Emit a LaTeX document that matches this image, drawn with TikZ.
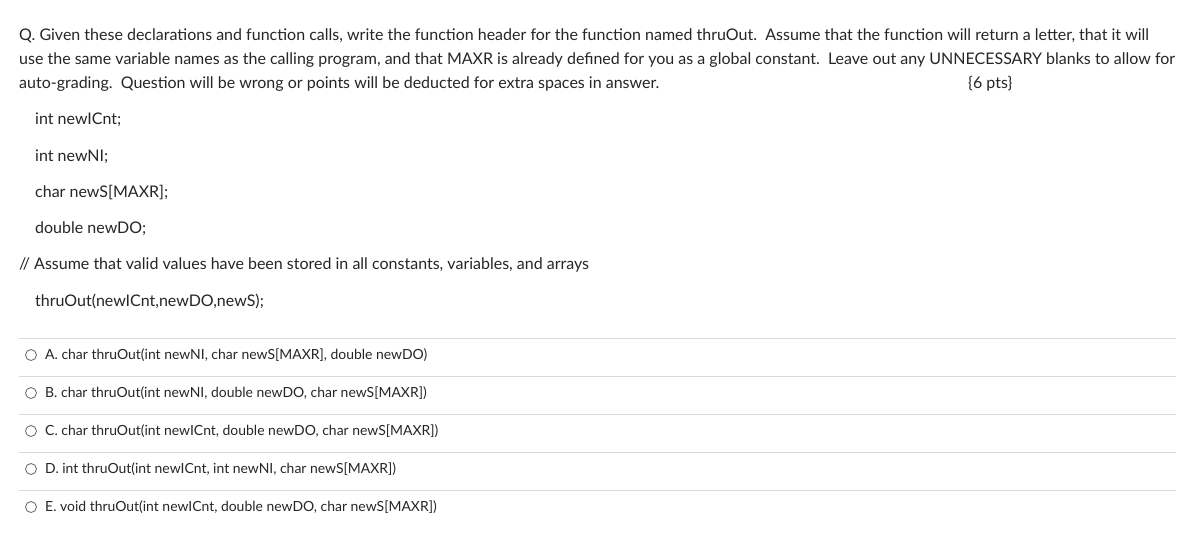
\documentclass[tikz,border=0pt]{standalone}
\usepackage{fontspec}
\setmainfont{Lato}
\begin{document}
\begin{tikzpicture}[x=1pt,y=-1pt,
  txt/.style={anchor=west,inner sep=0pt,font=\fontsize{16}{19}\selectfont,text=black!85},
  opt/.style={anchor=west,inner sep=0pt,font=\fontsize{13.95}{16}\selectfont,text=black!85},
  sep/.style={draw=black!15,line width=0.8pt},
  radio/.style={circle,draw=black!60,line width=0.8pt,minimum size=11pt,inner sep=0pt}]
\useasboundingbox[fill=white] (0,0) rectangle (1194,542);
\node[txt] (l1) at (19,36) {Q. Given these declarations and function calls, write the function header for the function named thruOut.\ \ Assume that the function will return a letter, that it will};
\node[txt] (l2) at (19,60) {use the same variable names as the calling program, and that MAXR is already defined for you as a global constant.\ \ Leave out any UNNECESSARY blanks to allow for};
\node[txt] (l3) at (19,84) {auto-grading.\ \ Question will be wrong or points will be deducted for extra spaces in answer.};
\node[txt] (pts) at (968,84) {\{6 pts\}};
\node[txt] (d1) at (35,120) {int newICnt;};
\node[txt] (d2) at (35,157) {int newNI;};
\node[txt] (d3) at (35,193) {char newS[MAXR];};
\node[txt] (d4) at (35,229) {double newDO;};
\node[txt] (cm) at (19,265) {// Assume that valid values have been stored in all constants, variables, and arrays};
\node[txt] (call) at (35,301) {thruOut(newICnt,newDO,newS);};
\foreach \y in {338,376,414,452,490} \draw[sep] (19,\y) -- (1176,\y);
\foreach \n/\y/\t in {a/355/{A. char thruOut(int newNI, char newS[MAXR], double newDO)},
  b/393/{B. char thruOut(int newNI, double newDO, char newS[MAXR])},
  c/431/{C. char thruOut(int newICnt, double newDO, char newS[MAXR])},
  d/469/{D. int thruOut(int newICnt, int newNI, char newS[MAXR])},
  e/507/{E. void thruOut(int newICnt, double newDO, char newS[MAXR])}}{
  \node[radio] (r\n) at (31,\y) {};
  \node[opt] (o\n) at (45,\y) {\t};
}
\end{tikzpicture}
\end{document}
